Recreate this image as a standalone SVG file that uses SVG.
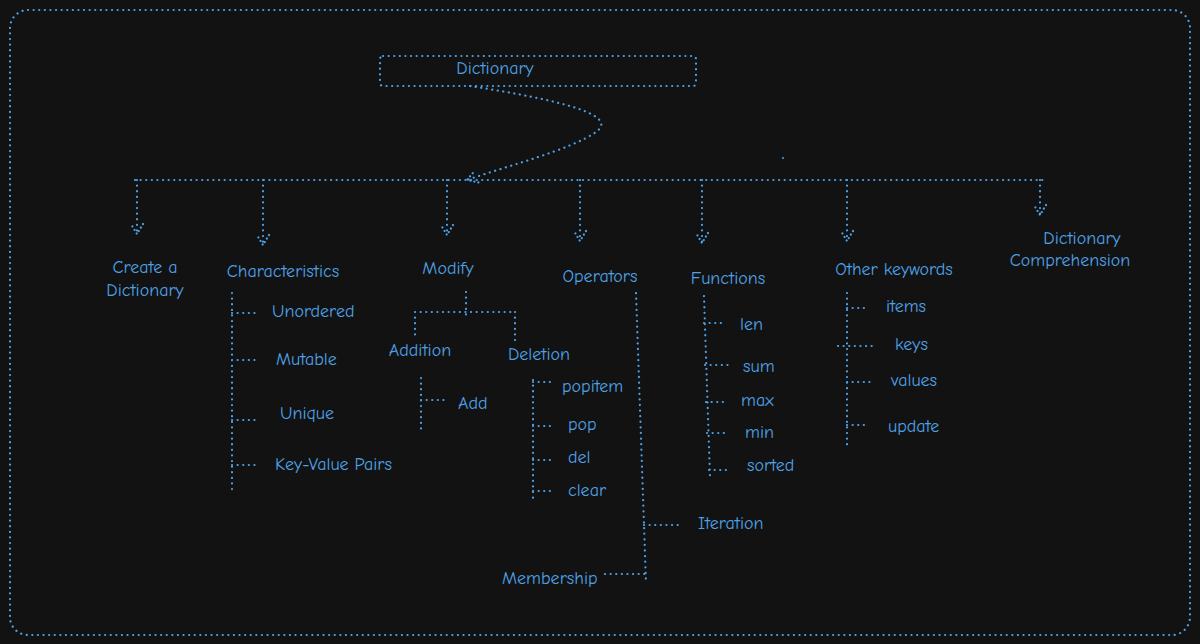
<svg xmlns="http://www.w3.org/2000/svg" width="1200" height="644" viewBox="0 0 1200 644">
<defs>
<style>
.l{fill:none;stroke:#4ea1e6;stroke-width:2.2;stroke-dasharray:0.1 5.5;stroke-linecap:round}
text{fill:#4ea1e6;font-family:"Comic Neue","Liberation Sans",sans-serif;font-size:18px}
.c{text-anchor:middle}
</style>
<marker id="a" viewBox="0 0 16 16" refX="14" refY="8" markerWidth="16" markerHeight="16" orient="auto" markerUnits="userSpaceOnUse">
<path d="M4,2 L14,8 L4,14" fill="none" stroke="#4ea1e6" stroke-width="2.2" stroke-linecap="round" stroke-dasharray="0.1 4"/>
</marker>
</defs>
<rect width="1200" height="644" fill="#121212"/>
<rect x="10" y="10" width="1180" height="625" rx="18" class="l"/>
<g id="dictionary"><rect x="380" y="56" width="316" height="30" rx="3" class="l"/><text x="495" y="74" class="c">Dictionary</text></g>
<g id="connectors">
<path class="l" d="M470,86 C560,100 620,115 596,132 C570,150 510,165 467,180" marker-end="url(#a)"/>
<path class="l" d="M135,180 H1045"/>
<path class="l" d="M137,180 V234" marker-end="url(#a)"/>
<path class="l" d="M263,180 V245" marker-end="url(#a)"/>
<path class="l" d="M447,180 V235" marker-end="url(#a)"/>
<path class="l" d="M580,180 V241" marker-end="url(#a)"/>
<path class="l" d="M702,180 V243" marker-end="url(#a)"/>
<path class="l" d="M847,180 V241" marker-end="url(#a)"/>
<path class="l" d="M1040,180 V215" marker-end="url(#a)"/>
<path class="l" d="M232,293 V490 M232,313 H256 M232,360 H256 M232,420 H260 M232,465 H258"/>
<path class="l" d="M466,292 V318 M415,312 H515 M415,312 V338 M515,312 V345"/>
<path class="l" d="M421,378 V432 M421,400 H448"/>
<path class="l" d="M533,380 V500 M533,382 H552 M533,426 H552 M533,460 H552 M533,491 H552"/>
<path class="l" d="M636,293 L646,583 M644,525 H680 M605,574 H646"/>
<path class="l" d="M704,296 L710,477 M704,323 H726 M705,365 H728 M706,402 H724 M707,433 H728 M709,470 H730"/>
<path class="l" d="M847,293 V448 M847,308 H868 M838,346 H875 M847,382 H870 M847,425 H866"/>
</g>
<circle cx="783" cy="158" r="1" fill="#4ea1e6"/>
<g id="create"><text x="145" y="273" class="c">Create a</text><text x="145" y="296" class="c">Dictionary</text></g>
<g id="characteristics"><text x="283" y="277" class="c">Characteristics</text>
<text x="272" y="317">Unordered</text><text x="276" y="365">Mutable</text><text x="280" y="419">Unique</text><text x="275" y="470">Key-Value Pairs</text></g>
<g id="modify"><text x="448" y="274" class="c">Modify</text>
<text x="420" y="356" class="c">Addition</text><text x="539" y="360" class="c">Deletion</text>
<text x="458" y="409">Add</text>
<text x="562" y="392">popitem</text><text x="568" y="430">pop</text><text x="568" y="463">del</text><text x="568" y="496">clear</text></g>
<g id="operators"><text x="600" y="282" class="c">Operators</text><text x="698" y="529">Iteration</text><text x="502" y="584">Membership</text></g>
<g id="functions"><text x="728" y="284" class="c">Functions</text>
<text x="740" y="330">len</text><text x="743" y="372">sum</text><text x="741" y="406">max</text><text x="745" y="438">min</text><text x="747" y="471">sorted</text></g>
<g id="other"><text x="894" y="275" class="c">Other keywords</text>
<text x="886" y="312">items</text><text x="895" y="350">keys</text><text x="891" y="386">values</text><text x="888" y="432">update</text></g>
<g id="comprehension"><text x="1082" y="244" class="c">Dictionary</text><text x="1070" y="266" class="c">Comprehension</text></g>
</svg>
